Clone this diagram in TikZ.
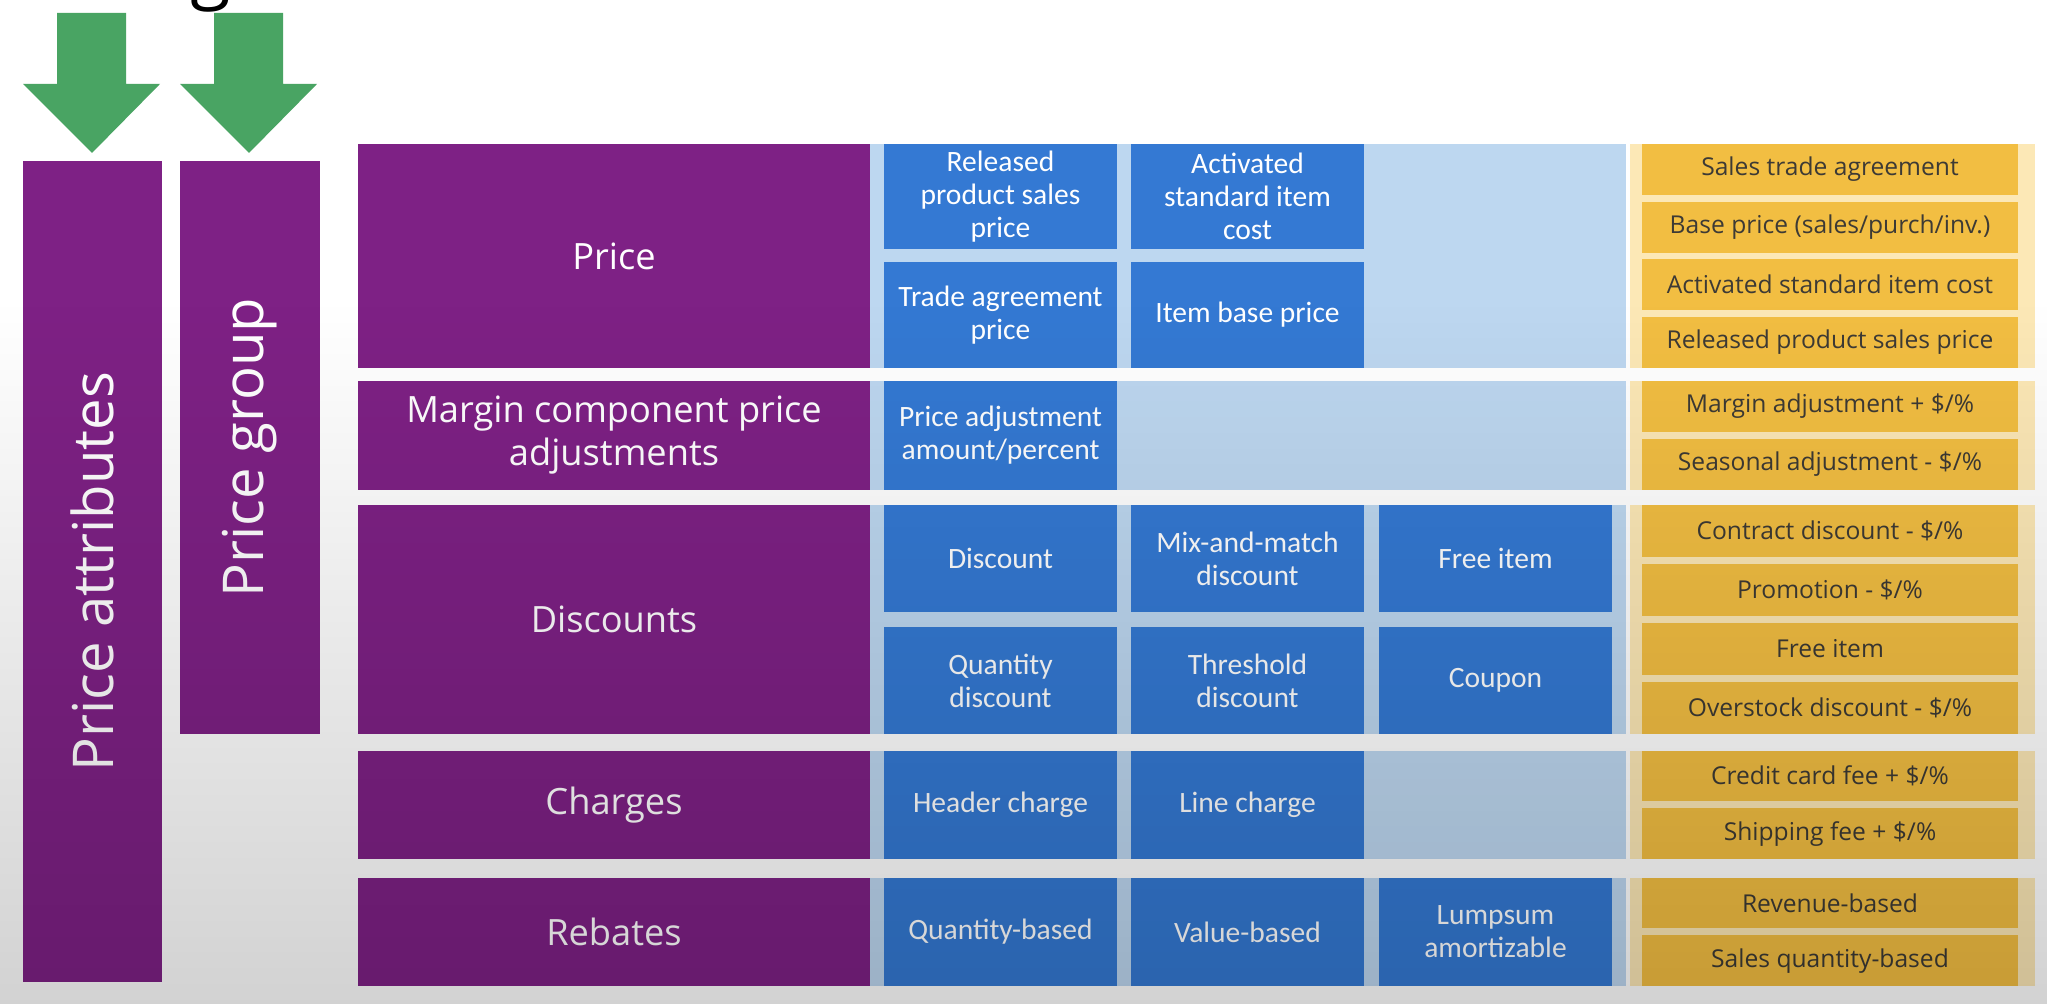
\documentclass[tikz,border=0pt]{standalone}
\usepackage{fontspec}
\setmainfont{Open Sans}
\newfontfamily\narrowfont{Carlito}
\usetikzlibrary{fadings}

\definecolor{pgpurple}{HTML}{7E2185}
\definecolor{pgblue}{HTML}{3479D3}
\definecolor{pglightblue}{HTML}{BDD7F0}
\definecolor{pgyellow}{HTML}{F2BE42}
\definecolor{pglightyellow}{HTML}{FCE8B6}
\definecolor{pggreen}{HTML}{49A463}
\definecolor{pgtext}{HTML}{3D3A35}

\begin{document}
\begin{tikzpicture}[x=0.01cm, y=-0.01cm,
  catbox/.style={fill=pgpurple},
  cattext/.style={text=white, align=center, font=\fontsize{10.3}{12.2}\selectfont},
  sidetext/.style={text=white, rotate=90, font=\fontsize{16}{18}\selectfont},
  bluepanel/.style={fill=pglightblue},
  itembox/.style={fill=pgblue},
  itemtext/.style={text=white, align=center, font=\narrowfont\fontsize{8.4}{9.4}\selectfont},
  yellowpanel/.style={fill=pglightyellow},
  notebox/.style={fill=pgyellow},
  notetext/.style={text=pgtext, font=\fontsize{7}{8}\selectfont}]
\useasboundingbox (0,0) rectangle (2048,1004);
\fill[white] (0,0) rectangle (2048,1004);

% cut-off title
\node[anchor=base, font=\fontsize{21}{21}\selectfont] (titleg) at (211,-5) {g};

% green arrows
\foreach \dx in {0,157} \fill[pggreen, shift={(\dx,0)}] (57,13) -- (126,13) -- (126,84) -- (160,84) -- (92,153) -- (23,84) -- (57,84) -- cycle;

% side bars
\fill[catbox] (23,161) rectangle node[sidetext] (attr) {Price attributes} (162,982);
\fill[catbox] (180,161) rectangle node[sidetext] (group) {Price group} (320,734);

% rows
\foreach \t/\b/\name/\txt in {144/368/price/Price, 381/490/margin/{Margin component price\\adjustments}, 505/734/discounts/Discounts, 751/859/charges/Charges, 878/986/rebates/Rebates}
{
  \fill[catbox] (358,\t) rectangle node[cattext] (\name) {\txt} (870,\b);
  \fill[bluepanel] (870,\t) rectangle (1626,\b);
  \fill[yellowpanel] (1630,\t) rectangle (2035,\b);
}

% blue items
\foreach \x/\t/\b/\name/\txt in {
  884/144/249/rel/{Released\\product sales\\price},
  884/262/368/trade/{Trade agreement\\price},
  1131/144/249/act/{Activated\\standard item\\cost},
  1131/262/368/base/{Item base price},
  884/381/490/adj/{Price adjustment\\amount/percent},
  884/505/612/disc/{Discount},
  1131/505/612/mix/{Mix-and-match\\discount},
  1379/505/612/free/{Free item},
  884/627/734/qty/{Quantity\\discount},
  1131/627/734/thr/{Threshold\\discount},
  1379/627/734/coupon/{Coupon},
  884/751/859/header/{Header charge},
  1131/751/859/line/{Line charge},
  884/878/986/qbased/{Quantity-based},
  1131/878/986/vbased/{Value-based},
  1379/878/986/lump/{Lumpsum\\amortizable}}
  \fill[itembox] (\x,\t) rectangle node[itemtext] (\name) {\txt} (\x+233,\b);

% yellow items
\foreach \t/\h/\name/\txt in {
  144/51/sta/{Sales trade agreement},
  202/51/bp/{Base price (sales/purch/inv.)},
  259/51/asic/{Activated standard item cost},
  317/51/rpsp/{Released product sales price},
  381/51/madj/{Margin adjustment + \$/\%},
  439/51/sadj/{Seasonal adjustment - \$/\%},
  505/52/cdisc/{Contract discount - \$/\%},
  564/52/promo/{Promotion - \$/\%},
  623/52/yfree/{Free item},
  682/52/over/{Overstock discount - \$/\%},
  751/50.5/ccfee/{Credit card fee + \$/\%},
  808.5/50.5/ship/{Shipping fee + \$/\%},
  878/50.5/rev/{Revenue-based},
  935.5/50.5/sqb/{Sales quantity-based}}
  \fill[notebox] (1642,\t) rectangle node[notetext] (\name) {\txt} (2018,\t+\h);

% grey shade at the bottom
\fill[black, opacity=0.2, path fading=north] (0,300) rectangle (2048,1100);
\end{tikzpicture}
\end{document}
